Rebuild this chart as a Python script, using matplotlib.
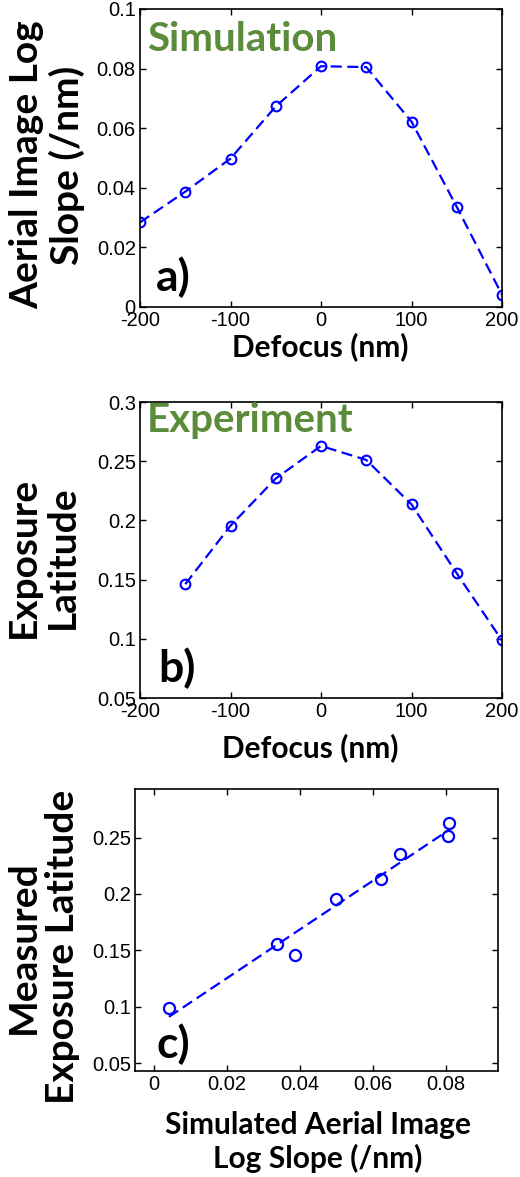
import numpy as np
import matplotlib.pyplot as plt
from matplotlib.ticker import FuncFormatter

# Data
defocus_sim = [-200, -150, -100, -50, 0, 50, 100, 150, 200]
ails_sim = [0.0284, 0.0387, 0.0498, 0.0673, 0.0808, 0.0805, 0.0622, 0.0336, 0.0041]

defocus_exp = [-150, -100, -50, 0, 50, 100, 150, 200]
el_exp = [0.1461, 0.1955, 0.2354, 0.2629, 0.2511, 0.2135, 0.1553, 0.0986]

W, H = 520, 1177
BLUE = '#0000ff'
GREEN = '#5b8c3a'
LABEL_FONT = 'Lato'

plt.rcParams['font.family'] = ['Liberation Sans', 'DejaVu Sans']


def box(left, top, right, bottom):
    return [left / W, 1 - bottom / H, (right - left) / W, (bottom - top) / H]


def px(x, y):
    return x / W, 1 - y / H


fmt = FuncFormatter(lambda v, pos: '%g' % round(v, 4))

fig = plt.figure(figsize=(W / 100, H / 100), dpi=100)


def style(ax):
    ax.tick_params(direction='in', top=True, right=True, length=4, width=1,
                   labelsize=14.5, pad=3)
    for s in ax.spines.values():
        s.set_linewidth(1.2)
    ax.xaxis.set_major_formatter(fmt)
    ax.yaxis.set_major_formatter(fmt)


bold = dict(fontweight='bold', family=LABEL_FONT)
YL = dict(rotation=90, fontsize=28, ha='center', va='center',
          multialignment='center', linespacing=1.15, **bold)
XL = dict(fontsize=21.5, ha='center', va='center', **bold)

# a) simulation
ax1 = fig.add_axes(box(140, 9, 502, 307))
ax1.plot(defocus_sim, ails_sim, '--o', color=BLUE, lw=1.6, ms=7,
         mfc='none', mew=1.5, dashes=(5, 2.5))
ax1.set_xlim(-200, 200)
ax1.set_ylim(0, 0.1)
ax1.set_xticks([-200, -100, 0, 100, 200])
ax1.set_yticks([0, 0.02, 0.04, 0.06, 0.08, 0.1])
style(ax1)
ax1.text(0.02, 0.96, 'Simulation', transform=ax1.transAxes, color=GREEN,
         fontsize=29, va='top', ha='left', **bold)
ax1.text(0.045, 0.03, 'a)', transform=ax1.transAxes, fontsize=32,
         va='bottom', ha='left', **bold)
fig.text(*px(320, 347), 'Defocus (nm)', **XL)
fig.text(*px(47, 165), 'Aerial Image Log\nSlope (/nm)', **YL)

# b) experiment
ax2 = fig.add_axes(box(140, 402, 502, 698))
ax2.plot(defocus_exp, el_exp, '--o', color=BLUE, lw=1.6, ms=7,
         mfc='none', mew=1.5, dashes=(5, 2.5))
ax2.set_xlim(-200, 200)
ax2.set_ylim(0.05, 0.3)
ax2.set_xticks([-200, -100, 0, 100, 200])
ax2.set_yticks([0.05, 0.1, 0.15, 0.2, 0.25, 0.3])
style(ax2)
ax2.text(0.02, 1.0, 'Experiment', transform=ax2.transAxes, color=GREEN,
         fontsize=29, va='top', ha='left', **bold)
ax2.text(0.05, 0.03, 'b)', transform=ax2.transAxes, fontsize=32,
         va='bottom', ha='left', **bold)
fig.text(*px(310, 748), 'Defocus (nm)', **XL)
fig.text(*px(43, 557), 'Exposure\nLatitude', **YL)

# c) correlation
sim_c = ails_sim[1:]
fit = np.polyfit(sim_c, el_exp, 1)
fx = np.array([min(sim_c), max(sim_c)])

ax3 = fig.add_axes(box(135, 789, 498, 1071))
ax3.plot(fx, np.polyval(fit, fx), '--', color=BLUE, lw=1.6, dashes=(5, 2.5))
ax3.plot(sim_c, el_exp, 'o', color=BLUE, ms=8, mfc='none', mew=1.6)
ax3.set_xlim(-0.0052, 0.0942)
ax3.set_ylim(0.043, 0.293)
ax3.set_xticks([0, 0.02, 0.04, 0.06, 0.08])
ax3.set_yticks([0.05, 0.1, 0.15, 0.2, 0.25])
style(ax3)
ax3.text(0.06, 0.02, 'c)', transform=ax3.transAxes, fontsize=32,
         va='bottom', ha='left', **bold)
fig.text(*px(318, 1142), 'Simulated Aerial Image\nLog Slope (/nm)',
         multialignment='center', linespacing=1.2, **XL)
fig.text(*px(43, 947), 'Measured\nExposure Latitude', **YL)

fig.savefig('out.png', dpi=100)
